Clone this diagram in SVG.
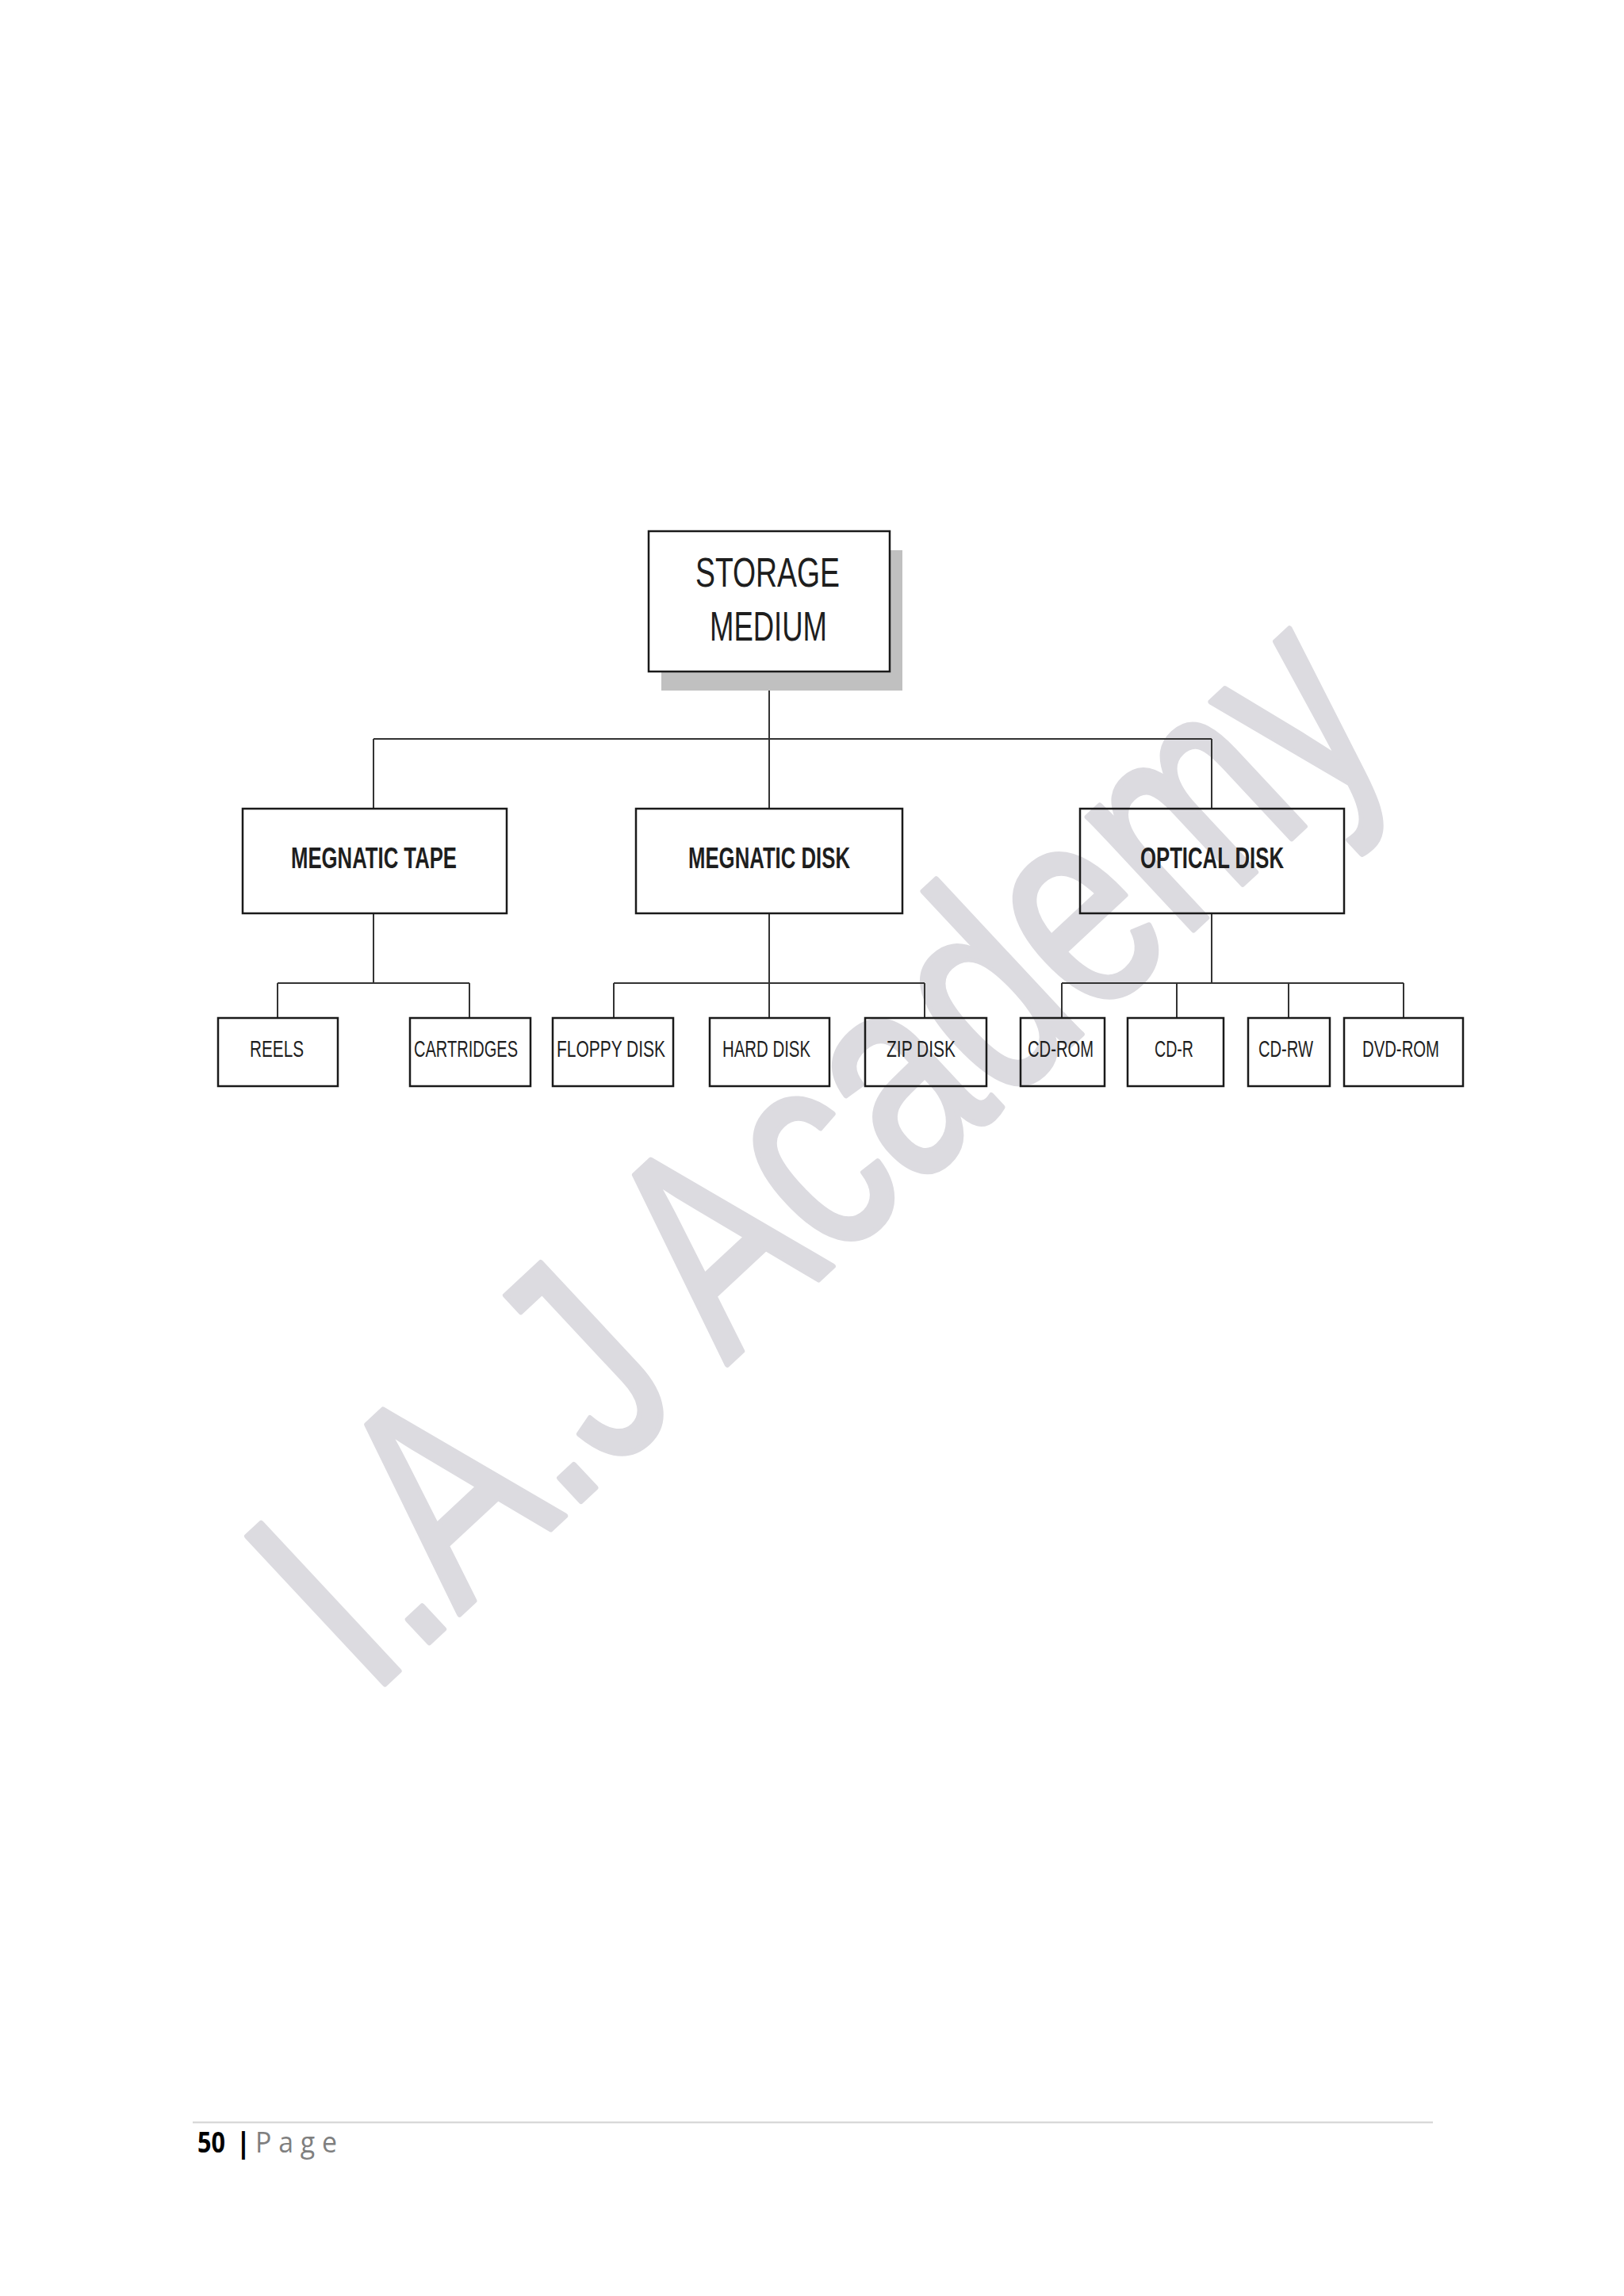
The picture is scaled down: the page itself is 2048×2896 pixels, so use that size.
<svg xmlns="http://www.w3.org/2000/svg" width="2048" height="2896" viewBox="0 0 2048 2896">
<style>
.box{fill:none;stroke:#1a1a1a;stroke-width:2.5}
.topbox{fill:#ffffff;stroke:#1a1a1a;stroke-width:2.5}
.shadow{fill:#c0c0c0;stroke:none}
.conn{fill:none;stroke:#333333;stroke-width:2}
.t{font-family:"Liberation Sans",Arial,sans-serif;fill:#1e1e1e}
.leaf{font-size:29.5px}
.mid{font-size:37.7px;font-weight:bold}
.top{font-size:52px}
.wm{font-family:"Liberation Sans",Arial,sans-serif;font-size:370px;fill:#dcdbe0;stroke:#dcdbe0;stroke-width:7;stroke-linejoin:round}
.ft{font-family:"Open Sans","Liberation Sans",sans-serif;font-size:36px}
</style>
<rect x="0" y="0" width="2048" height="2896" fill="#ffffff"/>
<g id="watermark">
<text class="wm" transform="translate(466,2142) rotate(-43)" x="0" y="0" textLength="1770" lengthAdjust="spacingAndGlyphs">I.A.J Academy</text>
</g>
<g id="connectors">
<path class="conn" d="M970 847 V1020 M471 932 H1528 M471 932 V1020 M1528 932 V1020"/>
<path class="conn" d="M471 1152 V1240 M350 1240 H592 M350 1240 V1284 M592 1240 V1284"/>
<path class="conn" d="M970 1152 V1240 M774 1240 H1166 M774 1240 V1284 M970 1240 V1284 M1166 1240 V1284"/>
<path class="conn" d="M1528 1152 V1240 M1339 1240 H1770 M1339 1240 V1284 M1484 1240 V1284 M1625 1240 V1284 M1770 1240 V1284"/>
</g>
<g id="storage-medium">
<rect class="shadow" x="834" y="694" width="304" height="177"/>
<rect class="topbox" x="818" y="670" width="304" height="177"/>
<text class="t top" x="877" y="740" textLength="182" lengthAdjust="spacingAndGlyphs">STORAGE</text>
<text class="t top" x="895" y="808" textLength="148" lengthAdjust="spacingAndGlyphs">MEDIUM</text>
</g>
<g id="megnatic-tape">
<rect class="box" x="306" y="1020" width="333" height="132"/>
<text class="t mid" x="367" y="1095" textLength="209" lengthAdjust="spacingAndGlyphs">MEGNATIC TAPE</text>
</g>
<g id="megnatic-disk">
<rect class="box" x="802" y="1020" width="336" height="132"/>
<text class="t mid" x="868" y="1095" textLength="204" lengthAdjust="spacingAndGlyphs">MEGNATIC DISK</text>
</g>
<g id="optical-disk">
<rect class="box" x="1362" y="1020" width="333" height="132"/>
<text class="t mid" x="1438" y="1095" textLength="181" lengthAdjust="spacingAndGlyphs">OPTICAL DISK</text>
</g>
<g id="reels">
<rect class="box" x="275" y="1284" width="151" height="86"/>
<text class="t leaf" x="315" y="1333" textLength="68" lengthAdjust="spacingAndGlyphs">REELS</text>
</g>
<g id="cartridges">
<rect class="box" x="517" y="1284" width="152" height="86"/>
<text class="t leaf" x="522" y="1333" textLength="131" lengthAdjust="spacingAndGlyphs">CARTRIDGES</text>
</g>
<g id="floppy-disk">
<rect class="box" x="697" y="1284" width="152" height="86"/>
<text class="t leaf" x="702" y="1333" textLength="137" lengthAdjust="spacingAndGlyphs">FLOPPY DISK</text>
</g>
<g id="hard-disk">
<rect class="box" x="895" y="1284" width="151" height="86"/>
<text class="t leaf" x="911" y="1333" textLength="111" lengthAdjust="spacingAndGlyphs">HARD DISK</text>
</g>
<g id="zip-disk">
<rect class="box" x="1091" y="1284" width="153" height="86"/>
<text class="t leaf" x="1118" y="1333" textLength="87" lengthAdjust="spacingAndGlyphs">ZIP DISK</text>
</g>
<g id="cd-rom">
<rect class="box" x="1287" y="1284" width="106" height="86"/>
<text class="t leaf" x="1296" y="1333" textLength="83" lengthAdjust="spacingAndGlyphs">CD-ROM</text>
</g>
<g id="cd-r">
<rect class="box" x="1422" y="1284" width="121" height="86"/>
<text class="t leaf" x="1456" y="1333" textLength="49" lengthAdjust="spacingAndGlyphs">CD-R</text>
</g>
<g id="cd-rw">
<rect class="box" x="1574" y="1284" width="103" height="86"/>
<text class="t leaf" x="1587" y="1333" textLength="69" lengthAdjust="spacingAndGlyphs">CD-RW</text>
</g>
<g id="dvd-rom">
<rect class="box" x="1695" y="1284" width="150" height="86"/>
<text class="t leaf" x="1718" y="1333" textLength="97" lengthAdjust="spacingAndGlyphs">DVD-ROM</text>
</g>
<g id="footer">
<line x1="243" y1="2677" x2="1807" y2="2677" stroke="#d9d9d9" stroke-width="2.5"/>
<text class="ft" x="249" y="2715" font-weight="bold" fill="#000000" textLength="35" lengthAdjust="spacingAndGlyphs">50</text>
<text class="ft" x="297" y="2715" font-weight="bold" fill="#000000">|</text>
<text class="ft" x="322" y="2715" fill="#7f7f7f" textLength="103" lengthAdjust="spacingAndGlyphs">P a g e</text>
</g>
</svg>
